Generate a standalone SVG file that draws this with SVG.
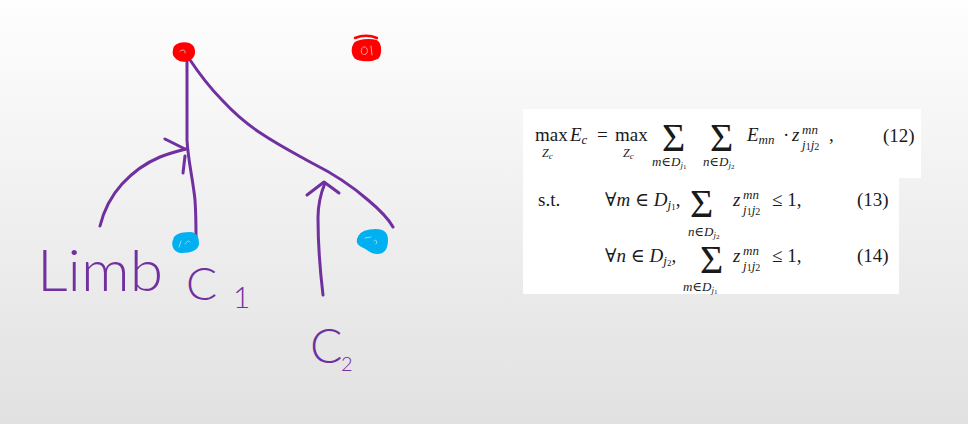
<svg xmlns="http://www.w3.org/2000/svg" width="968" height="424" viewBox="0 0 968 424">
<defs>
<linearGradient id="bg" x1="0" y1="0" x2="0" y2="1">
<stop offset="0" stop-color="#fefefe"/>
<stop offset="1" stop-color="#e1e1e1"/>
</linearGradient>
<style>
.ink{fill:none;stroke:#7030a0;stroke-width:3;stroke-linecap:round;stroke-linejoin:round}
.hand{fill:#7030a0;font-family:Lato,"Liberation Sans",sans-serif;font-weight:300}
.red{fill:#ff0000;stroke:#ff0000;stroke-width:4;stroke-linejoin:round}
.blue{fill:#00b0f0;stroke:#00b0f0;stroke-width:4;stroke-linejoin:round}
.hl{fill:none;stroke:#ff9a9a;stroke-width:1;stroke-linecap:round}
.hb{fill:none;stroke:#8fdcf8;stroke-width:1;stroke-linecap:round}
.m{font-family:"Liberation Serif","DejaVu Serif",serif;fill:#1a1a1a;font-size:19px}
.i{font-style:italic}
.s{font-size:13px}
.ss{font-size:9px}
.sig{font-size:40px}
</style>
</defs>
<rect x="0" y="0" width="968" height="424" fill="url(#bg)"/>

<g id="equations">
<path d="M523 109 H921 V178 H899 V294 H523 Z" fill="#ffffff"/>
<!-- row 12 -->
<text class="m" x="535" y="141">max</text>
<text class="m i" x="542" y="157" style="font-size:12px">Z<tspan class="ss" dy="2">c</tspan></text>
<text class="m i" x="570" y="141">E<tspan class="s" dy="3">c</tspan></text>
<text class="m" x="597" y="141">=</text>
<text class="m" x="615" y="141">max</text>
<text class="m i" x="623" y="157" style="font-size:12px">Z<tspan class="ss" dy="2">c</tspan></text>
<text class="m sig" x="662" y="151">Σ</text>
<text class="m i s" x="652" y="166">m∈D<tspan class="ss" dy="2">j</tspan><tspan class="ss" style="font-style:normal;font-size:7px" dy="1">1</tspan></text>
<text class="m sig" x="710" y="151">Σ</text>
<text class="m i s" x="703" y="166">n∈D<tspan class="ss" dy="2">j</tspan><tspan class="ss" style="font-style:normal;font-size:7px" dy="1">2</tspan></text>
<text class="m i" x="747" y="141">E<tspan class="s" dy="3">mn</tspan></text>
<text class="m" x="783" y="141">·</text>
<text class="m i" x="792" y="141">z</text>
<text class="m i s" x="802" y="134">mn</text>
<text class="m i s" x="802" y="149">j<tspan style="font-style:normal;font-size:10px" dy="1">1</tspan><tspan dy="-1">j</tspan><tspan style="font-style:normal;font-size:10px" dy="1">2</tspan></text>
<text class="m" x="829" y="141">,</text>
<text class="m" x="883" y="142">(12)</text>
<!-- row 13 -->
<text class="m" x="538" y="206">s.t.</text>
<text class="m" x="605" y="206">∀<tspan class="i">m</tspan> ∈ <tspan class="i">D</tspan><tspan class="i s" dy="3">j</tspan><tspan style="font-size:9px" dy="1">1</tspan><tspan dy="-4">,</tspan></text>
<text class="m sig" x="690" y="217">Σ</text>
<text class="m i s" x="688" y="236">n∈D<tspan class="ss" dy="2">j</tspan><tspan class="ss" style="font-style:normal;font-size:7px" dy="1">2</tspan></text>
<text class="m i" x="733" y="206">z</text>
<text class="m i s" x="743" y="199">mn</text>
<text class="m i s" x="743" y="214">j<tspan style="font-style:normal;font-size:10px" dy="1">1</tspan><tspan dy="-1">j</tspan><tspan style="font-style:normal;font-size:10px" dy="1">2</tspan></text>
<text class="m" x="772" y="206">≤ 1,</text>
<text class="m" x="857" y="206">(13)</text>
<!-- row 14 -->
<text class="m" x="605" y="262">∀<tspan class="i">n</tspan> ∈ <tspan class="i">D</tspan><tspan class="i s" dy="3">j</tspan><tspan style="font-size:9px" dy="1">2</tspan><tspan dy="-4">,</tspan></text>
<text class="m sig" x="700" y="273">Σ</text>
<text class="m i s" x="683" y="291">m∈D<tspan class="ss" dy="2">j</tspan><tspan class="ss" style="font-style:normal;font-size:7px" dy="1">1</tspan></text>
<text class="m i" x="733" y="262">z</text>
<text class="m i s" x="743" y="255">mn</text>
<text class="m i s" x="743" y="270">j<tspan style="font-style:normal;font-size:10px" dy="1">1</tspan><tspan dy="-1">j</tspan><tspan style="font-style:normal;font-size:10px" dy="1">2</tspan></text>
<text class="m" x="772" y="262">≤ 1,</text>
<text class="m" x="857" y="262">(14)</text>
</g>

<g id="connectors">
<path class="ink" d="M187 57 C187 90 187 120 187 140 C188 160 193 180 195 200 C196 215 196 228 196 237"/>
<path class="ink" d="M188 57 C198 72 210 88 222 100 C234 113 248 125 262 134 C280 146 296 154 312 163 C332 173 352 186 368 200 C380 210 388 218 393 227"/>
<path class="ink" d="M100 226 C104 210 112 195 122 184 C134 171 148 162 160 157 C170 153 178 151 186 149"/>
<path class="ink" d="M165 139 L185 149"/>
<path class="ink" d="M185 156 L183 173"/>
<path class="ink" d="M323 295 C320 270 318 240 318 218 C318 205 320 195 325 183"/>
<path class="ink" d="M307 195 L324 182 L339 193"/>
</g>

<g id="root-node">
<path class="red" d="M175 50 C175 45 183 43 189 45 C194 47 194 54 191 57 C188 60 182 61 178 58 C175 56 174 53 175 50 Z"/>
<path class="hl" d="M180 51 C183 49 186 50 185 53"/>
</g>
<g id="red-node-2">
<path class="red" d="M355 45 C357 41 370 40 376 42 C380 44 380 54 377 57 C372 60 360 60 356 57 C353 54 353 48 355 45 Z"/>
<path fill="none" stroke="#ff0000" stroke-width="2.5" stroke-linecap="round" d="M355 38 C362 35 370 35 377 38"/>
<path class="hl" d="M362 48 C360 52 362 56 366 54 C369 51 367 46 363 47 M371 46 L372 55"/>
</g>
<g id="blue-node-1">
<path class="blue" d="M175 240 C176 235 184 234 190 234 C196 234 197 238 197 244 C196 250 188 251 181 251 C175 250 173 245 175 240 Z"/>
<path class="hb" d="M179 247 L181 241 M185 244 C187 241 189 240 190 242"/>
</g>
<g id="blue-node-2">
<path class="blue" d="M360 237 C362 233 368 231 376 231 C383 231 386 234 386 240 C386 247 384 252 377 252 C371 252 368 247 362 245 C358 243 358 240 360 237 Z"/>
<path class="hb" d="M365 238 L371 237 M374 241 C376 239 378 241 376 244"/>
</g>

<g id="label-limb-c1">
<text class="hand" x="37" y="291" font-size="58" textLength="126" lengthAdjust="spacingAndGlyphs">Limb</text>
<text class="hand" x="186" y="300" font-size="46">C</text>
<text class="hand" x="233" y="308" font-size="30">1</text>
</g>
<g id="label-c2">
<text class="hand" x="310" y="363" font-size="48">C</text>
<text class="hand" x="341" y="371" font-size="20">2</text>
</g>
</svg>
